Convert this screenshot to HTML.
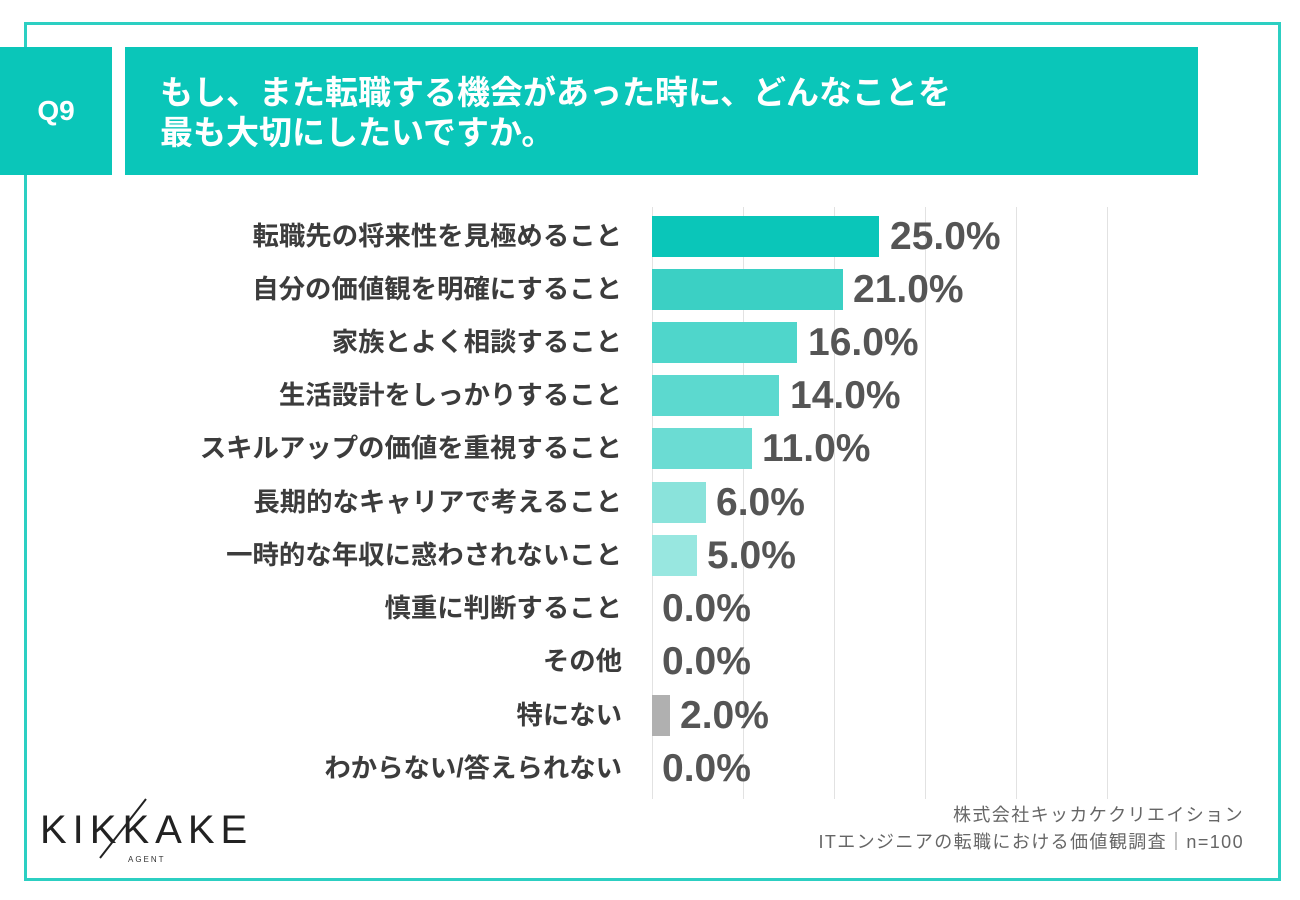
<!DOCTYPE html>
<html><head><meta charset="utf-8"><style>
body{margin:0;width:1300px;height:900px;background:#fff;position:relative;overflow:hidden;font-family:"Liberation Sans","Noto Sans CJK JP",sans-serif}
.abs{position:absolute}
.frame{left:24px;top:22px;width:1251px;height:853px;border:3px solid #2ccfc2}
.lab{position:absolute;right:678px;font-size:26.4px;font-weight:bold;color:#3c3c3c;white-space:nowrap;line-height:41px}
.bar{position:absolute;left:652px;height:41px}
.val{position:absolute;font-size:39px;font-weight:bold;color:#555;line-height:41px;letter-spacing:0px}
.grid{position:absolute;top:207px;height:592px;width:1px;background:#e2e2e2}
</style></head><body>
<div class="abs frame"></div>
<div class="abs" style="left:0;top:47px;width:112px;height:128px;background:#0ac6b9;color:#fff;font-weight:bold;font-size:28px;line-height:128px;text-align:center">Q9</div>
<div class="abs" style="left:125px;top:47px;width:1073px;height:128px;background:#0ac6b9"></div>
<div class="abs" style="left:160px;top:73px;color:#fff;font-weight:bold;font-size:33px;line-height:40px;white-space:nowrap">もし、また転職する機会があった時に、どんなことを<br>最も大切にしたいですか。</div>

<div class="grid" style="left:652px"></div>
<div class="grid" style="left:743px"></div>
<div class="grid" style="left:834px"></div>
<div class="grid" style="left:925px"></div>
<div class="grid" style="left:1016px"></div>
<div class="grid" style="left:1107px"></div>

<div class="lab" style="top:216px">転職先の将来性を見極めること</div>
<div class="bar" style="top:216px;width:227px;background:#0ac6b9"></div>
<div class="val" style="top:216px;left:890px">25.0%</div>

<div class="lab" style="top:269px">自分の価値観を明確にすること</div>
<div class="bar" style="top:269px;width:191px;background:#3bd0c4"></div>
<div class="val" style="top:269px;left:853px">21.0%</div>

<div class="lab" style="top:322px">家族とよく相談すること</div>
<div class="bar" style="top:322px;width:145px;background:#4fd6cb"></div>
<div class="val" style="top:322px;left:808px">16.0%</div>

<div class="lab" style="top:375px">生活設計をしっかりすること</div>
<div class="bar" style="top:375px;width:127px;background:#5cd9cf"></div>
<div class="val" style="top:375px;left:790px">14.0%</div>

<div class="lab" style="top:428px">スキルアップの価値を重視すること</div>
<div class="bar" style="top:428px;width:100px;background:#6bdcd3"></div>
<div class="val" style="top:428px;left:762px">11.0%</div>

<div class="lab" style="top:482px">長期的なキャリアで考えること</div>
<div class="bar" style="top:482px;width:54px;background:#8ae3db"></div>
<div class="val" style="top:482px;left:716px">6.0%</div>

<div class="lab" style="top:535px">一時的な年収に惑わされないこと</div>
<div class="bar" style="top:535px;width:45px;background:#98e7e0"></div>
<div class="val" style="top:535px;left:707px">5.0%</div>

<div class="lab" style="top:588px">慎重に判断すること</div>
<div class="val" style="top:588px;left:662px">0.0%</div>

<div class="lab" style="top:641px">その他</div>
<div class="val" style="top:641px;left:662px">0.0%</div>

<div class="lab" style="top:695px">特にない</div>
<div class="bar" style="top:695px;width:18px;background:#b0b0b0"></div>
<div class="val" style="top:695px;left:680px">2.0%</div>

<div class="lab" style="top:748px">わからない/答えられない</div>
<div class="val" style="top:748px;left:662px">0.0%</div>

<div class="abs" style="right:56px;top:802px;text-align:right;font-size:18px;letter-spacing:1.4px;color:#666;line-height:27px;white-space:nowrap">株式会社キッカケクリエイション<br>ITエンジニアの転職における価値観調査｜n=100</div>

<div class="abs" style="left:40px;top:806px;font-size:40px;color:#222;letter-spacing:6px;font-weight:300;line-height:48px">KIKKAKE</div>
<svg class="abs" style="left:90px;top:795px" width="70" height="70"><line x1="56" y1="4" x2="10" y2="63" stroke="#222" stroke-width="2"/></svg>
<div class="abs" style="left:128px;top:855px;font-size:8px;letter-spacing:2px;color:#333">AGENT</div>
</body></html>
